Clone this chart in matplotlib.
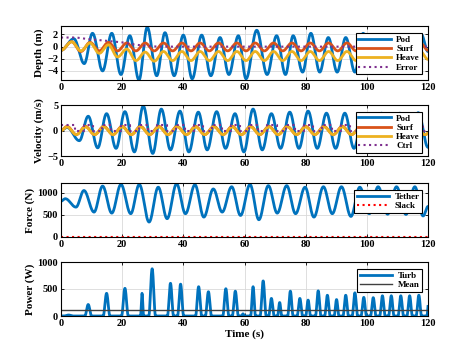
import numpy as np
import matplotlib
matplotlib.use("Agg")
import matplotlib.pyplot as plt

plt.rcParams["font.family"] = ["Liberation Serif", "DejaVu Serif"]
plt.rcParams["font.weight"] = "bold"

# ---- data (extrema of each trace) ----
# Depth (m)
depth_pod_t = [0, 4.2, 7.6, 10.3, 13.6, 16.6, 19.6, 22.5, 25.5, 28.2, 31.3, 34.0, 37.0,
               40.0, 42.9, 46.0, 49.0, 52.0, 54.9, 58.0, 60.5, 64.0, 67.4, 70.5, 73.4,
               75.9, 79.0, 81.7, 84.6, 87.4, 90.3, 93.1, 96.1, 98.8, 102.1, 105.2,
               108.3, 111.4, 114.6, 117.8, 120]
depth_pod_v = [-0.6, 1.3, -2.8, 2.2, -4.0, 2.2, -4.6, 1.8, -5.5, 3.2, -4.8, 2.3, -4.8,
               1.9, -5.3, 1.9, -4.8, 1.5, -4.6, 1.8, -5.3, 2.7, -4.6, 1.8, -4.6,
               1.8, -4.2, 2.2, -4.2, 1.5, -4.2, 1.5, -4.2, 2.2, -4.4, 1.8,
               -4.4, 1.8, -4.4, 2.0, -0.8]
surf_t = [0, 3.5, 6.5, 9.5, 12.5, 15.5, 18.5, 21.5, 24.5, 27.5, 30.5, 33.5, 36.5, 39.5,
          42.5, 45.5, 48.5, 51.5, 54.5, 57.5, 60.5, 63.5, 66.5, 69.5, 72.5, 75.5, 78.5,
          81.5, 84.5, 87.5, 90.5, 93.5, 96.5, 99.5, 102.5, 105.5, 108.5, 111.5, 114.5,
          117.5, 120]
depth_surf_v = [-0.6, 0.8, -0.8, 0.7, -0.7, 0.7, -0.7, 0.6, -0.7, 0.6, -0.7, 0.6, -0.7,
                0.6, -0.7, 0.6, -0.7, 0.6, -0.7, 0.6, -0.7, 0.6, -0.7, 0.6, -0.7, 0.6,
                -0.7, 0.6, -0.7, 0.6, -0.7, 0.6, -0.7, 0.6, -0.7, 0.6, -0.7, 0.6, -0.7,
                0.6, -0.6]
depth_heave_v = [-0.6, 0.8, -0.7, 0.6, -1.1, 0.3, -1.7, -0.4, -2.3, -0.9, -2.4, -0.8,
                 -2.3, -0.8, -2.3, -0.8, -2.3, -0.8, -2.3, -0.8, -2.3, -0.8, -2.3, -0.8,
                 -2.3, -0.8, -2.3, -0.8, -2.3, -0.8, -2.3, -0.8, -2.3, -0.8, -2.3, -0.8,
                 -2.3, -0.8, -2.3, -0.8, -2.1]
error_t = [0, 5, 8, 12, 16, 20, 24, 28, 32, 120]
error_v = [1.5, 1.5, 1.3, 1.1, 0.9, 0.7, 0.35, 0.1, 0.0, 0.0]

# Velocity (m/s)
vel_pod_t = [0, 2.0, 6.0, 8.9, 12.0, 14.9, 18.0, 20.9, 24.0, 26.9, 30.0, 32.8, 35.8,
             38.9, 41.8, 44.9, 47.8, 50.9, 53.8, 56.9, 59.8, 62.8, 65.8, 68.8, 71.8,
             74.8, 77.8, 80.8, 83.8, 86.8, 89.8, 92.8, 95.8, 98.8, 101.8, 104.8,
             107.8, 110.8, 113.8, 116.8, 120]
vel_pod_v = [0.0, 0.6, -2.0, 2.8, -3.4, 3.3, -3.5, 3.7, -4.2, 4.8, -4.5, 4.2, -3.8,
             3.8, -4.2, 3.6, -3.8, 3.7, -3.5, 3.3, -4.2, 4.2, -3.8, 3.3, -3.5,
             3.6, -3.5, 3.8, -3.5, 3.4, -3.5, 3.4, -3.5, 3.2, -3.5, 3.4,
             -3.5, 3.4, -3.5, 3.5, -3.3]
vel_wave_t = [0, 2.0, 5.0, 8.0, 11.0, 14.0, 17.0, 20.0, 23.0, 26.0, 29.0, 32.0, 35.0,
              38.0, 41.0, 44.0, 47.0, 50.0, 53.0, 56.0, 59.0, 62.0, 65.0, 68.0, 71.0,
              74.0, 77.0, 80.0, 83.0, 86.0, 89.0, 92.0, 95.0, 98.0, 101.0, 104.0,
              107.0, 110.0, 113.0, 116.0, 119.0, 120]
vel_surf_v = [0.0, 0.8, -0.8, 0.8, -0.8, 0.8, -0.8, 0.8, -0.8, 0.8, -0.8, 0.8, -0.8,
              0.8, -0.8, 0.8, -0.8, 0.8, -0.8, 0.8, -0.8, 0.8, -0.8, 0.8, -0.8,
              0.8, -0.8, 0.8, -0.8, 0.8, -0.8, 0.8, -0.8, 0.8, -0.8, 0.8,
              -0.8, 0.8, -0.8, 0.8, -0.8, -0.6]
vel_heave_v = [0.0, 0.7, -0.8, 0.7, -0.8, 0.7, -0.8, 0.7, -0.8, 0.7, -0.8, 0.7, -0.8,
               0.7, -0.8, 0.7, -0.8, 0.7, -0.8, 0.7, -0.8, 0.7, -0.8, 0.7, -0.8,
               0.7, -0.8, 0.7, -0.8, 0.7, -0.8, 0.7, -0.8, 0.7, -0.8, 0.7,
               -0.8, 0.7, -0.8, 0.7, -0.8, -0.6]
ctrl_t = [0, 4.5, 7.5, 10.5, 13.5, 16.5, 19.5, 22.5, 25.5, 28.5, 31.5, 34.5, 37.5, 40.5,
          43.5, 46.5, 49.5, 52.5, 55.5, 58.5, 61.5, 64.5, 67.5, 70.5, 73.5, 76.5, 79.5,
          82.5, 85.5, 88.5, 91.5, 94.5, 97.5, 100.5, 103.5, 106.5, 109.5, 112.5,
          115.5, 118.5, 120]
ctrl_v = [1, 0, 1, 0, 1, 0, 1, 0, 1, 0, 1, 0, 1, 0, 1, 0, 1, 0, 1, 0, 1, 0, 1, 0, 1, 0,
          1, 0, 1, 0, 1, 0, 1, 0, 1, 0, 1, 0, 1, 0, 0]

# Force (N)
force_t = [0, 1.4, 4.9, 7.5, 10.8, 13.6, 16.6, 19.6, 22.8, 25.6, 28.8, 31.8, 34.7,
           37.8, 40.7, 43.8, 46.7, 49.8, 52.7, 55.8, 58.7, 61.8, 64.7, 67.8, 70.7,
           73.8, 76.7, 79.8, 82.7, 85.8, 88.7, 91.7, 94.8, 97.7, 100.8, 103.7,
           106.8, 109.7, 112.8, 115.7, 118.4, 120]
force_v = [810, 865, 675, 1050, 563, 1150, 540, 1187, 527, 1187, 338, 1125, 414,
           1200, 527, 1180, 450, 1085, 563, 1135, 487, 1187, 390, 1160, 540,
           1160, 527, 1125, 450, 1135, 527, 1135, 465, 1125, 527, 1135,
           515, 1135, 510, 1135, 475, 690]
slack_t = [0, 120]
slack_v = [0, 0]

# Power (W): pulse peaks
turb_t = [2.5, 8.9, 14.9, 20.9, 26.5, 29.8, 35.8, 39.1, 45.0, 48.2, 53.9, 57.0, 59.5,
          62.8, 66.1, 68.8, 71.5, 75.0, 78.1, 80.8, 84.1, 87.1, 90.1, 93.1, 96.1,
          99.0, 102.1, 105.1, 108.0, 111.1, 114.0, 117.0, 120.5]
turb_v = [18, 213, 420, 513, 420, 875, 606, 590, 543, 450, 505, 460, 40,
          543, 650, 326, 250, 460, 326, 295, 466, 385, 305, 385, 430,
          345, 340, 375, 375, 375, 375, 385, 430]
turb_w = [3.0, 2.2, 2.2, 2.2, 1.0, 2.2, 2.0, 2.0, 2.0, 2.0, 2.0, 2.0, 1.0,
          1.6, 2.0, 1.8, 1.4, 1.8, 1.8, 1.6, 1.8, 1.8, 1.6, 1.8, 1.8,
          1.8, 1.8, 1.8, 1.8, 1.8, 1.8, 1.8, 1.8]
mean_power = 107


def smooth(tp, vp, n=30):
    """Join the read extrema with half-cosine segments."""
    ts, vs = [], []
    for i in range(len(tp) - 1):
        s = np.linspace(0, 1, n, endpoint=False)
        ts.append(tp[i] + (tp[i + 1] - tp[i]) * s)
        vs.append(vp[i] + (vp[i + 1] - vp[i]) * (1 - np.cos(np.pi * s)) / 2)
    ts.append([tp[-1]])
    vs.append([vp[-1]])
    return np.concatenate(ts), np.concatenate(vs)


def pulses(tp, vp, wp):
    t = np.linspace(0, 120, 4001)
    v = np.zeros_like(t)
    for c, h, w in zip(tp, vp, wp):
        m = np.abs(t - c) < w / 2
        v[m] = np.maximum(v[m], h * np.cos(np.pi * (t[m] - c) / w) ** 2)
    return t, v


BLUE = "#0072BD"
RED = "#D95319"
YEL = "#EDB120"
PURP = "#7E2F8E"

W, H = 474, 355
fig = plt.figure(figsize=(W / 100, H / 100), dpi=100)


def make_ax(top, bottom):
    return fig.add_axes([61 / W, 1 - bottom / H, 367 / W, (bottom - top) / H])


def style(ax, ylabel):
    ax.set_xlim(0, 120)
    ax.set_xticks(range(0, 121, 20))
    ax.grid(True, color="#d9d9d9", lw=0.6)
    ax.set_axisbelow(True)
    ax.tick_params(direction="in", top=True, right=True, labelsize=7.5,
                   length=2.5, width=0.6, pad=2)
    for lab in ax.get_xticklabels() + ax.get_yticklabels():
        lab.set_fontweight("bold")
    for sp in ax.spines.values():
        sp.set_linewidth(0.8)
    ax.set_ylabel(ylabel, fontsize=8, fontweight="bold", labelpad=2)


def legend(ax):
    leg = ax.legend(loc="upper right", bbox_to_anchor=(0.985, 0.87),
                    fancybox=False, framealpha=1, edgecolor="black",
                    handlelength=3.6, borderpad=0.3, labelspacing=0.1,
                    handletextpad=0.6, borderaxespad=0.0,
                    prop={"weight": "bold", "size": 6.5})
    leg.get_frame().set_linewidth(0.8)
    return leg


# Depth
ax1 = make_ax(26, 80)
t, v = smooth(depth_pod_t, depth_pod_v)
ax1.plot(t, v, color=BLUE, lw=2.0, label="Pod")
t, v = smooth(surf_t, depth_surf_v)
ax1.plot(t, v, color=RED, lw=2.0, label="Surf")
t, v = smooth(surf_t, depth_heave_v)
ax1.plot(t, v, color=YEL, lw=2.0, label="Heave")
ax1.plot(error_t, error_v, color=PURP, lw=1.5, ls=":", label="Error")
ax1.set_ylim(-5.5, 3.4)
ax1.set_yticks([-4, -2, 0, 2])
style(ax1, "Depth (m)")
legend(ax1)

# Velocity
ax2 = make_ax(105, 156)
t, v = smooth(vel_pod_t, vel_pod_v)
ax2.plot(t, v, color=BLUE, lw=2.0, label="Pod")
t, v = smooth(vel_wave_t, vel_surf_v)
ax2.plot(t, v, color=RED, lw=2.0, label="Surf")
t, v = smooth(vel_wave_t, vel_heave_v)
ax2.plot(t, v, color=YEL, lw=2.0, label="Heave")
ax2.step(ctrl_t, ctrl_v, where="post", color=PURP, lw=1.5, ls=":", label="Ctrl")
ax2.set_ylim(-5, 5)
ax2.set_yticks([-5, 0, 5])
style(ax2, "Velocity (m/s)")
legend(ax2)

# Force
ax3 = make_ax(183, 237)
t, v = smooth(force_t, force_v)
ax3.plot(t, v, color=BLUE, lw=2.0, label="Tether")
ax3.plot(slack_t, slack_v, color="red", lw=1.5, ls=":", label="Slack")
ax3.set_ylim(0, 1220)
ax3.set_yticks([0, 500, 1000])
style(ax3, "Force (N)")
legend(ax3)

# Power
ax4 = make_ax(262, 316)
t, v = pulses(turb_t, turb_v, turb_w)
ax4.plot(t, v, color=BLUE, lw=2.0, label="Turb")
ax4.axhline(mean_power, color="#404040", lw=1.0, label="Mean")
ax4.set_ylim(0, 1000)
ax4.set_yticks([0, 500, 1000])
style(ax4, "Power (W)")
ax4.set_xlabel("Time (s)", fontsize=8, fontweight="bold", labelpad=1)
legend(ax4)

fig.savefig("out.png", dpi=100)
